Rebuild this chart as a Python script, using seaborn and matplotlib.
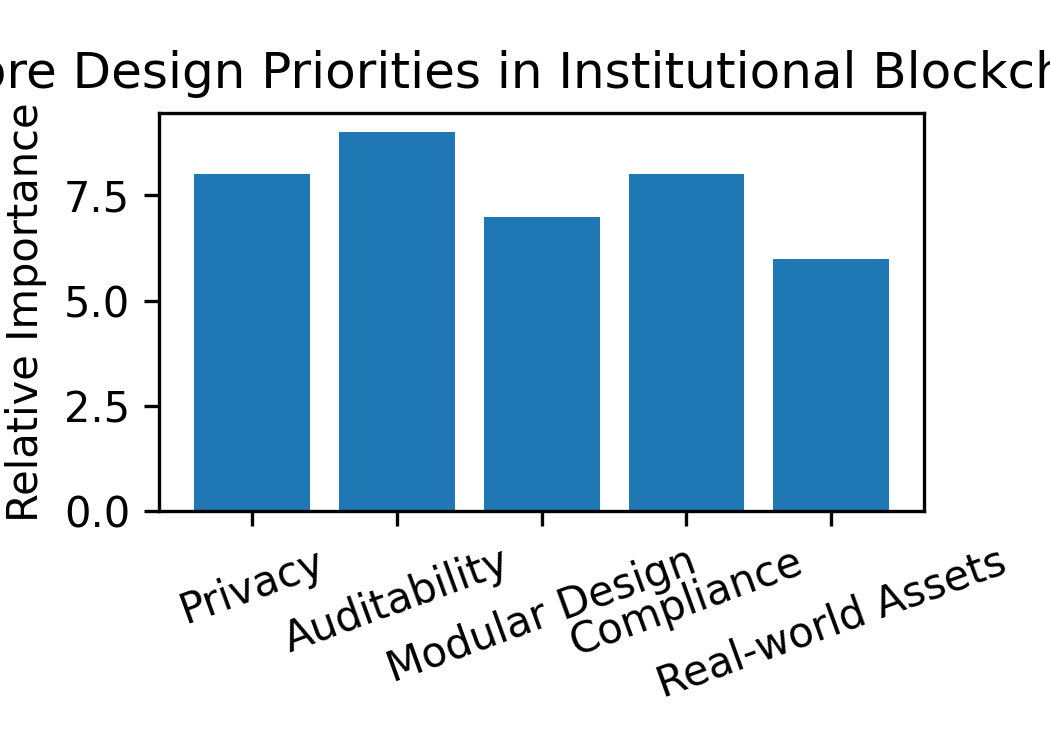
import matplotlib
matplotlib.use("Agg")
import matplotlib.pyplot as plt
import pandas as pd
import seaborn as sns

priorities = ["Privacy", "Auditability", "Modular Design", "Compliance", "Real-world Assets"]
importance = [8, 9, 7, 8, 6]

df = pd.DataFrame({"Priority": priorities, "Importance": importance})

fig, ax = plt.subplots(figsize=(3.5, 2.5), dpi=300)
sns.barplot(data=df, x="Priority", y="Importance", color="#1f77b4",
            saturation=1, width=0.8, ax=ax)

# keep matplotlib-style margins instead of seaborn's category padding
ax.set_xlim(-0.64, len(priorities) - 1 + 0.64)
ax.set_ylim(0, max(importance) * 1.05)
ax.set_title("Core Design Priorities in Institutional Blockchain")
ax.set_xlabel("")
ax.set_ylabel("Relative Importance")
plt.xticks(rotation=20)

fig.subplots_adjust(left=0.1517, right=0.880, bottom=0.318, top=0.849)
fig.savefig("out.png", dpi=300)
